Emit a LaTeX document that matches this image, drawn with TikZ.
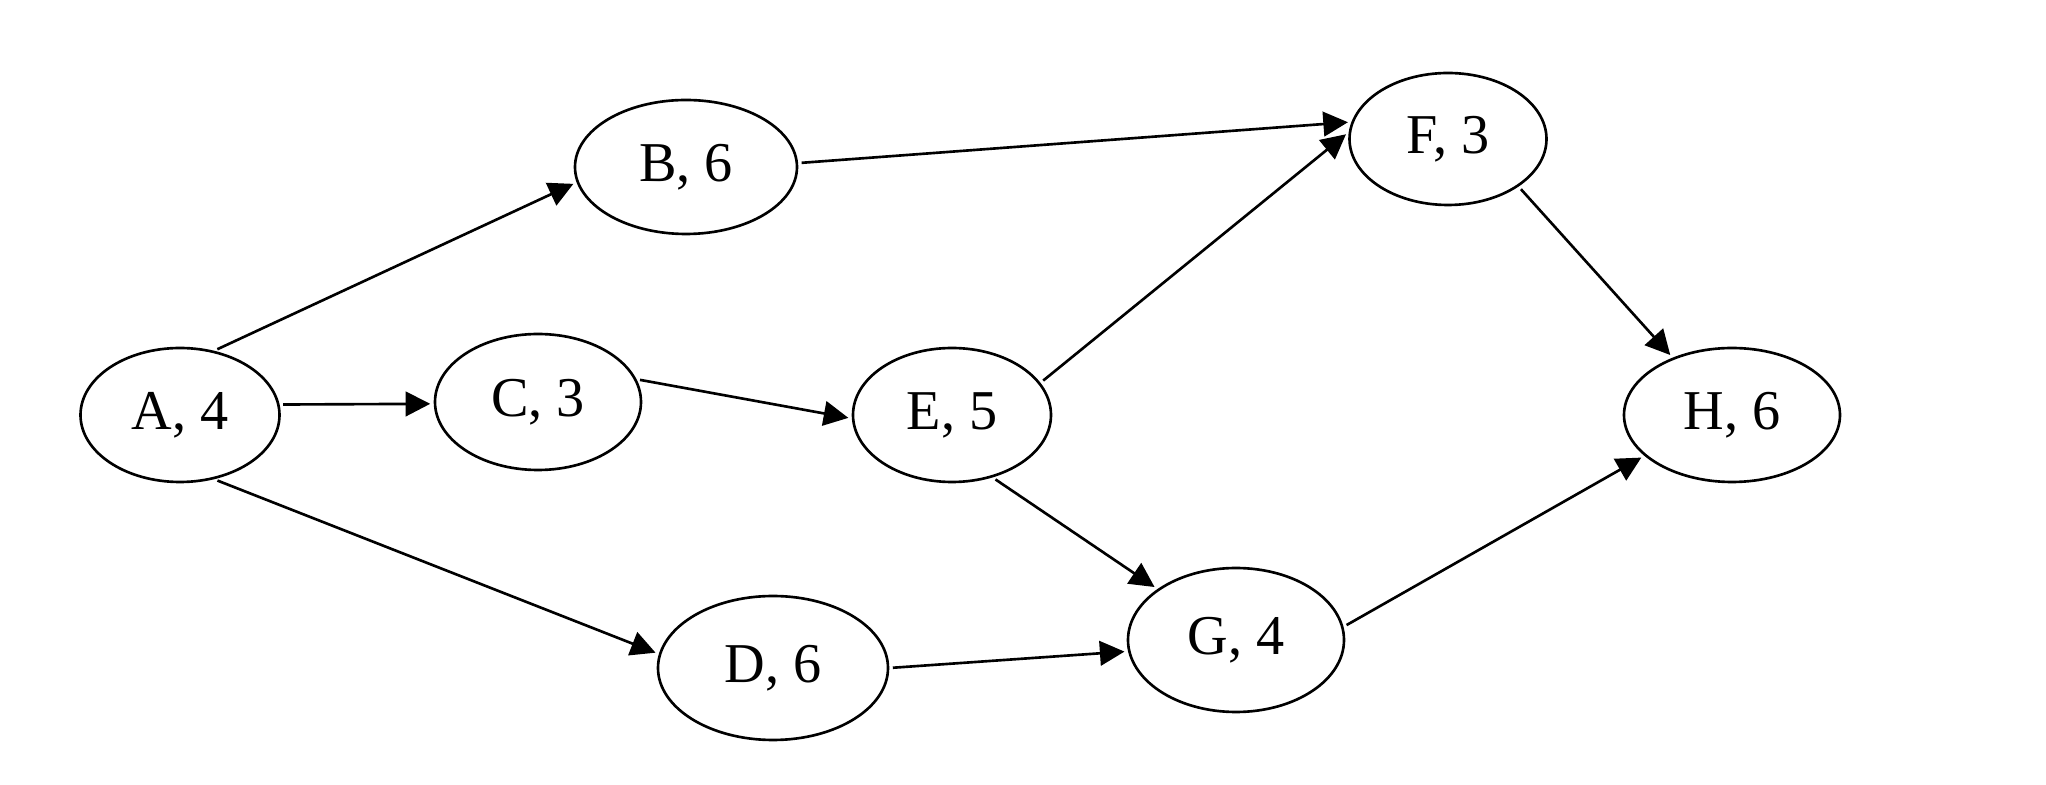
\documentclass[tikz,border=0pt]{standalone}
\usepackage{fontspec}
\setmainfont{Liberation Serif}
\usetikzlibrary{shapes.geometric,arrows.meta}

\tikzstyle{task}=[ellipse,draw,line width=0.75pt,inner sep=0pt,minimum width=1.99cm,minimum height=1.34cm,font=\fontsize{16}{19}\selectfont]
\tikzstyle{link}=[line width=0.75pt,-{Triangle[length=7pt,width=7pt]},shorten <=1pt,shorten >=1pt]

\begin{document}
\begin{tikzpicture}
\useasboundingbox (0,0) rectangle (20.46,7.85);

\node[task] (A) at (1.80,3.70) {A, 4};
\node[task,minimum width=2.22cm] (B) at (6.86,6.18) {B, 6};
\node[task,minimum width=2.06cm,minimum height=1.36cm] (C) at (5.38,3.83) {C, 3};
\node[task,minimum width=2.30cm,minimum height=1.44cm] (D) at (7.73,1.17) {D, 6};
\node[task,minimum width=1.98cm] (E) at (9.52,3.70) {E, 5};
\node[task,minimum width=1.97cm,minimum height=1.32cm] (F) at (14.48,6.46) {F, 3};
\node[task,minimum width=2.16cm,minimum height=1.44cm] (G) at (12.36,1.45) {G, 4};
\node[task,minimum width=2.16cm] (H) at (17.32,3.70) {H, 6};

\draw[link] (A.62) -- (B.188);
\draw[link] (A.6.5) -- (C.181);
\draw[link] (A.298) -- (D.173);
\draw[link] (C.13) -- (E.182);
\draw[link] (B.2) -- (F.170);
\draw[link] (E.20) -- (F.176);
\draw[link] (E.303) -- (G.147);
\draw[link] (D.0.5) -- (G.186);
\draw[link] (F.326) -- (H.136);
\draw[link] (G.7) -- (H.205);
\end{tikzpicture}
\end{document}
